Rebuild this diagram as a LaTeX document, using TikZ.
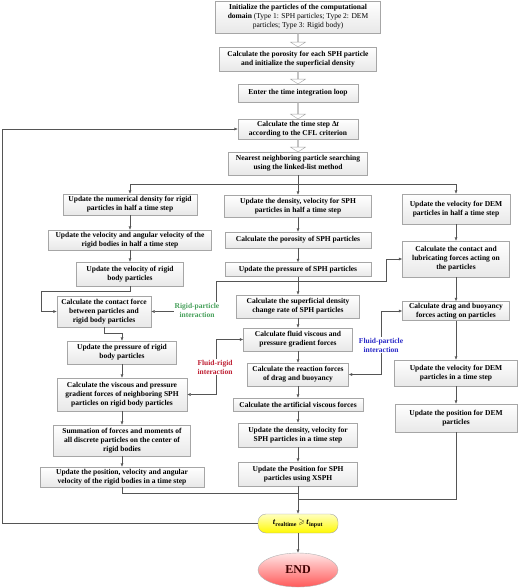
\documentclass[tikz,border=0pt]{standalone}
\usepackage{amsmath}
\usepackage{amssymb}
\usepackage{fontspec}
\setmainfont{Liberation Serif}
\usepackage{tikz}
\usetikzlibrary{arrows.meta,shapes.arrows,shapes.geometric,shadows,calc}

\definecolor{rpgreen}{RGB}{70,160,90}
\definecolor{frred}{RGB}{190,30,50}
\definecolor{fpblue}{RGB}{40,40,200}
\definecolor{lnk}{RGB}{85,85,85}

\begin{document}
\begin{tikzpicture}[x=1pt, y=-1pt,
    box/.style={draw=gray!70, top color=white, bottom color=gray!18,
      drop shadow={opacity=0.25, shadow xshift=0.8pt, shadow yshift=-0.8pt},
      align=center, inner sep=1pt, font=\bfseries\fontsize{7.5}{9}\selectfont},
    arr/.style={-{Latex[length=3.5pt, width=3pt]}, draw=lnk, thin},
    link/.style={draw=lnk, thin},
    dbl/.style={{Latex[length=3.5pt, width=3pt]}-{Latex[length=3.5pt, width=3pt]}, draw=lnk, thin},
    hollow/.style={single arrow, draw=gray!70, fill=white, rotate=-90,
      minimum width=15pt, single arrow head extend=3.5pt, single arrow tip angle=115, inner sep=0pt},
    inter/.style={fill=white, align=center, inner sep=1pt, font=\bfseries\fontsize{7.5}{9}\selectfont},
    cond/.style={draw=gray!70, rounded corners=8pt, top color=yellow!25, bottom color=yellow!95!orange,
      font=\bfseries\fontsize{8.5}{9}\selectfont},
    endnode/.style={ellipse, draw=gray!60, top color=red!10, bottom color=red!65!white,
      text=black!75!red, font=\bfseries\fontsize{12}{13}\selectfont}
  ]
  \useasboundingbox (0,0) rectangle (520,588);

  % ══ TOP: initialisation and time loop ═════════════════════════════════════
  \node[box, font=\fontsize{7.5}{9}\selectfont, minimum width=165pt, minimum height=32pt] (init) at (298,17)
    {\textbf{Initialize the particles of the computational}\\\textbf{domain} (Type 1: SPH particles; Type 2: DEM\\particles; Type 3: Rigid body)};
  \node[box, minimum width=157pt, minimum height=24pt] (poro) at (298,59)
    {Calculate the porosity for each SPH particle\\and initialize the superficial density};
  \node[box, minimum width=120pt, minimum height=18pt] (tloop) at (298,93)
    {Enter the time integration loop};
  \node[box, minimum width=120pt, minimum height=20pt] (tstep) at (298,129)
    {Calculate the time step Δ\textit{t}\\according to the CFL criterion};
  \node[box, minimum width=139pt, minimum height=23pt] (nnps) at (298,163.5)
    {Nearest neighboring particle searching\\using the linked-list method};

  % hollow arrows between the first boxes
  \foreach \a/\b in {init/poro, poro/tloop, tloop/tstep, tstep/nnps}
    \path let \p1=(\a.south), \p2=(\b.north), \n1={\y1-\y2} in
      node[hollow, minimum height=\n1] at ($(\p1)!0.5!(\p2)$) {};

  % ══ LEFT: rigid bodies ════════════════════════════════════════════════════
  \node[box, minimum width=134pt, minimum height=21pt] (rdens) at (130,204.5)
    {Update the numerical density for rigid\\particles in half a time step};
  \node[box, minimum width=163pt, minimum height=20pt] (rvel) at (130,240)
    {Update the velocity and angular velocity of the\\rigid bodies in half a time step};
  \node[box, minimum width=107pt, minimum height=24pt] (rpvel) at (130,274)
    {Update the velocity of rigid\\body particles};
  \node[box, minimum width=94pt, minimum height=31pt] (rcont) at (104,311.5)
    {Calculate the contact force\\between particles and\\rigid body particles};
  \node[box, minimum width=109pt, minimum height=23pt] (rpres) at (122,352.5)
    {Update the pressure of rigid\\body particles};
  \node[box, minimum width=130pt, minimum height=33pt] (rvisc) at (122,394.5)
    {Calculate the viscous and pressure\\gradient forces of neighboring SPH\\particles on rigid body particles};
  \node[box, minimum width=137pt, minimum height=31pt] (rsum) at (122,440.5)
    {Summation of forces and moments of\\all discrete particles on the center of\\rigid bodies};
  \node[box, minimum width=164pt, minimum height=20pt] (rpos) at (122,477)
    {Update the position, velocity and angular\\velocity of the rigid bodies in a time step};

  % ══ MIDDLE: SPH particles ═════════════════════════════════════════════════
  \node[box, minimum width=147pt, minimum height=22pt] (sdens) at (298,206)
    {Update the density, velocity for SPH\\particles in half a time step};
  \node[box, minimum width=146pt, minimum height=16pt] (sporo) at (298,240)
    {Calculate the porosity of SPH particles};
  \node[box, minimum width=146pt, minimum height=14pt] (spres) at (298,269.5)
    {Update the pressure of SPH particles};
  \node[box, minimum width=123pt, minimum height=23pt] (ssup) at (298,306.5)
    {Calculate the superficial density\\change rate of SPH particles};
  \node[box, minimum width=109pt, minimum height=23pt] (sforce) at (298,339.5)
    {Calculate fluid viscous and\\pressure gradient forces};
  \node[box, minimum width=101pt, minimum height=23pt] (sreact) at (298,374.5)
    {Calculate the reaction forces\\of drag and buoyancy};
  \node[box, minimum width=130pt, minimum height=13pt] (sart) at (298,404.5)
    {Calculate the artificial viscous forces};
  \node[box, minimum width=119pt, minimum height=24pt] (svel) at (298,435)
    {Update the density, velocity for\\SPH particles in a time step};
  \node[box, minimum width=119pt, minimum height=24pt] (spos) at (298,474)
    {Update the Position for SPH\\particles using XSPH};

  % ══ RIGHT: DEM particles ══════════════════════════════════════════════════
  \node[box, minimum width=108pt, minimum height=30pt] (dvel) at (456,209)
    {Update the velocity for DEM\\particles in half a time step};
  \node[box, minimum width=107pt, minimum height=36pt] (dcont) at (456,259)
    {Calculate the contact and\\lubricating forces acting on\\the particles};
  \node[box, minimum width=107pt, minimum height=19pt] (ddrag) at (456,311)
    {Calculate drag and buoyancy\\forces acting on particles};
  \node[box, minimum width=123pt, minimum height=26pt] (dvel2) at (456,373)
    {Update the velocity for DEM\\particles in a time step};
  \node[box, minimum width=122pt, minimum height=28pt] (dpos) at (456,418)
    {Update the position for DEM\\particles};

  % ══ BOTTOM: check and end ═════════════════════════════════════════════════
  \node[cond, minimum width=80pt, minimum height=19pt] (check) at (298,523.5)
    {\textit{t}\textsubscript{realtime}\,$\geqslant$\,\textit{t}\textsubscript{input}};
  \node[endnode, minimum width=80pt, minimum height=34pt] (stop) at (298,570) {END};

  % branches after the neighbour search
  \draw[link] (nnps.south) -- ++(0,9) coordinate (br);
  \draw[arr] (br) -| (rdens.north);
  \draw[arr] (br) -- (sdens.north);
  \draw[arr] (br) -| (dvel.north);

  % column flows
  \foreach \a/\b in {rdens/rvel, rvel/rpvel, rpres/rvisc, rvisc/rsum, rsum/rpos}
    \draw[arr] (\a) -- (\b);
  \draw[arr] (rpvel.south) -- ++(0,5) -| ([xshift=-16pt]rcont.west) -- (rcont.west);
  \draw[arr] (rcont.south) -- ++(0,6) -| (rpres.north);
  \foreach \a/\b in {sdens/sporo, sporo/spres, spres/ssup, ssup/sforce, sforce/sreact,
      sreact/sart, sart/svel, svel/spos}
    \draw[arr] (\a) -- (\b);
  \foreach \a/\b in {dvel/dcont, dcont/ddrag, ddrag/dvel2, dvel2/dpos}
    \draw[arr] (\a) -- (\b);

  % interactions
  \coordinate (jn) at ($(spres.south)+(0,4)$);
  \draw[arr] (jn) -| ([xshift=-16pt]dcont.west) -- (dcont.west);
  \draw[arr] (jn) -| ([xshift=65pt]rcont.east) -- (rcont.east);
  \node[inter, text=rpgreen] (rpi) at (197,310) {Rigid-particle\\interaction};
  \draw[dbl] (rvisc.east) -- ++(29,0) |- (sforce.west);
  \node[inter, text=frred] (fri) at (215,367) {Fluid-rigid\\interaction};
  \draw[dbl] (sreact.east) -- ++(32,0) |- (ddrag.west);
  \node[inter, text=fpblue] (fpi) at (381,345) {Fluid-particle\\interaction};

  % merge, loop back and end
  \draw[link] (rpos.south) -- ++(0,6) -| (spos.south);
  \draw[link] (dpos.south) |- ($(spos.south)+(0,13)$);
  \draw[arr] (spos) -- (check);
  \draw[arr] (check) -- (stop);
  \draw[arr] (check.west) -| ([xshift=-236pt]tstep.west) -- (tstep.west);

\end{tikzpicture}
\end{document}
